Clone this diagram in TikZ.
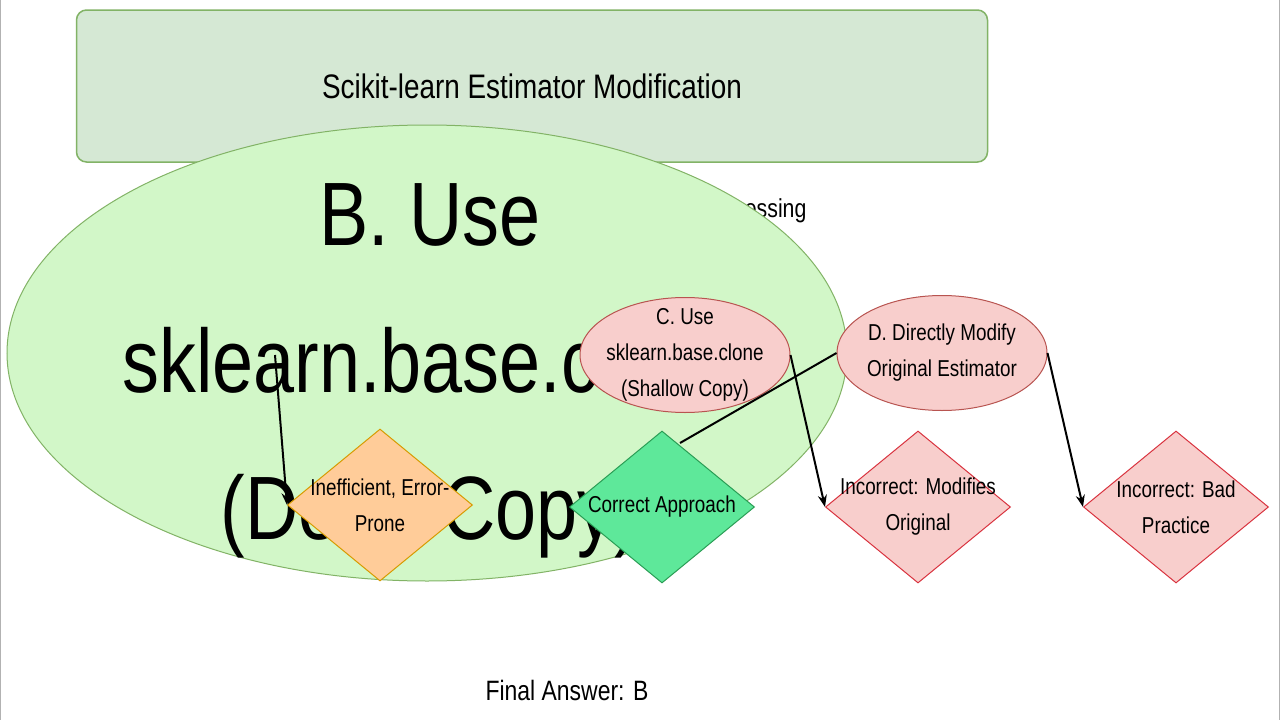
\documentclass[tikz,border=0pt]{standalone}
\usepackage{fontspec}
\setmainfont{Liberation Sans}[FakeStretch=0.82]
\usetikzlibrary{shapes.geometric,arrows.meta}
\definecolor{tgfill}{HTML}{D5E8D4}
\definecolor{tgdraw}{HTML}{82B366}
\definecolor{bigfill}{HTML}{D2F7C8}
\definecolor{rfill}{HTML}{F8CECC}
\definecolor{rdraw}{HTML}{B85450}
\definecolor{rdraw2}{HTML}{D9333F}
\definecolor{ofill}{HTML}{FFCC99}
\definecolor{odraw}{HTML}{D79B00}
\definecolor{gfill}{HTML}{5EE89A}
\definecolor{gdraw}{HTML}{2A9D55}
\tikzset{
 fs/.style={font=\fontsize{#1pt}{1.2\dimexpr#1pt\relax}\selectfont},
 small/.style={font=\fontsize{23pt}{36pt}\selectfont},
 redell/.style={ellipse,draw=rdraw,fill=rfill,line width=1pt,minimum width=210pt,minimum height=115pt,inner sep=0pt},
 dia/.style={diamond,line width=1pt,minimum width=185pt,minimum height=152pt,inner sep=0pt},
 dtext/.style={align=center,small},
 arr/.style={-{Stealth[length=12pt,width=9pt]},line width=2pt},
}
\begin{document}
\begin{tikzpicture}[x=1pt,y=-1pt]
\useasboundingbox[fill=white] (0,0) rectangle (1280,720);
\draw[gray!60] (0.5,0) -- (0.5,720) (1279.5,0) -- (1279.5,720);
\node[draw=tgdraw,fill=tgfill,rounded corners=10pt,line width=1.5pt,minimum width=911pt,minimum height=152pt,fs=34] (title) at (532,86) {Scikit-learn Estimator Modification};
\node[fs=26,anchor=east] (pre) at (810,211) {Preprocessing};
\node[ellipse,draw=tgdraw,fill=bigfill,line width=1pt,minimum width=840pt,minimum height=456pt] (b) at (427,353) {};
\node[align=center,font=\fontsize{90pt}{147pt}\selectfont] (btext) at (430,371) {B. Use\\sklearn.base.clone\\(Deep Copy)};
\coordinate (bs) at (275,355);
\coordinate (gt) at (680,443);
\node[redell] (c) at (685,355) {};
\node[dtext] (ct) at (c.center) {C. Use\\sklearn.base.clone\\(Shallow Copy)};
\node[redell] (d) at (942,353) {};
\node[dtext] (dt) at (d.center) {D. Directly Modify\\Original Estimator};
\draw[line width=2pt] (d.west) -- (gt);
\node[dia,draw=odraw,fill=ofill] (o) at (380,505) {};
\node[dtext] (ot) at (o.center) {Inefficient, Error-\\Prone};
\node[dia,draw=gdraw,fill=gfill] (g) at (662,507) {};
\node[dtext] (gtx) at (g.center) {Correct Approach};
\node[dia,draw=rdraw2,fill=rfill] (m) at (918,507) {};
\node[dtext] (mt) at (m.center) {Incorrect: Modifies\\Original};
\node[dia,draw=rdraw2,fill=rfill] (p) at (1176,507) {};
\node[dtext] (pt) at (p.center) {Incorrect: Bad\\Practice};
\draw[arr] (bs) -- (o.west);
\draw[arr] (c.east) -- (m.west);
\draw[arr] (d.east) -- (p.west);
\node[fs=28] (fa) at (567,690) {Final Answer: B};
\end{tikzpicture}
\end{document}
